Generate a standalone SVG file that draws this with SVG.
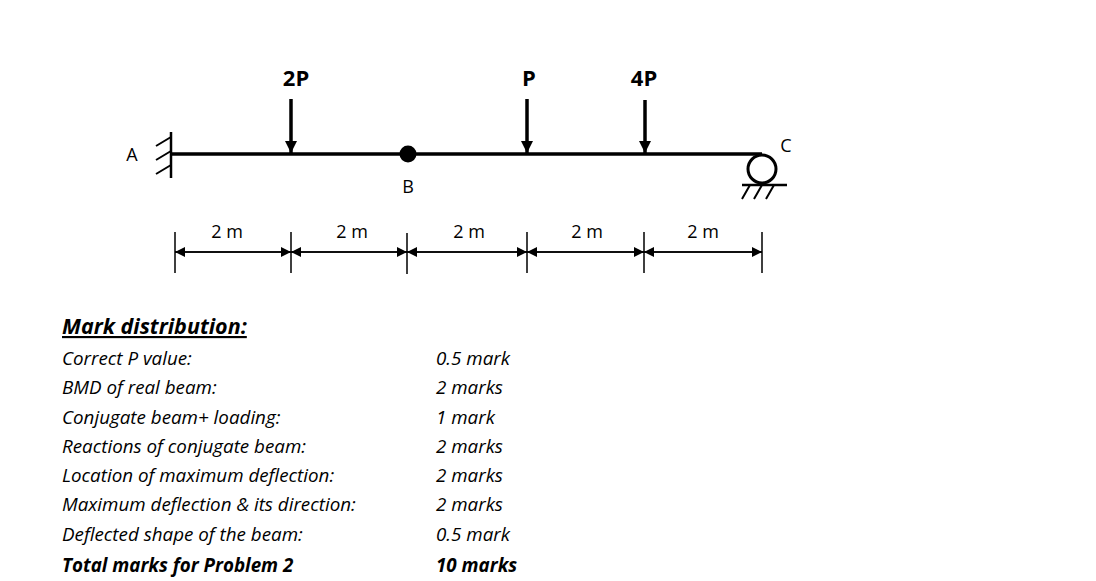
<svg xmlns="http://www.w3.org/2000/svg" width="1096" height="581" viewBox="0 0 1096 581">
<style>
text{font-family:"Open Sans","Liberation Sans",sans-serif;fill:#000}
.lbl{font-size:18px}
.ld{font-size:22px;font-weight:bold}
.it{font-size:18.8px;font-style:italic}
.ln{stroke:#000;fill:none}
</style>
<defs>
<marker id="ah" viewBox="0 0 10 10" refX="10" refY="5" markerWidth="10" markerHeight="10" markerUnits="userSpaceOnUse" orient="auto"><path d="M0,0L10,5L0,10z"/></marker>
<marker id="ld" viewBox="0 0 10 10" refX="10" refY="5" markerWidth="14" markerHeight="12" markerUnits="userSpaceOnUse" orient="auto"><path d="M0,0L10,5L0,10z"/></marker>
</defs>
<rect width="1096" height="581" fill="#fff"/>
<g id="beam">
<line class="ln" x1="171" y1="154" x2="762" y2="154" stroke-width="3.5"/>
</g>
<g id="A">
<line class="ln" x1="171" y1="132" x2="171" y2="178" stroke-width="2.5"/>
<path class="ln" stroke-width="2" d="M171,137L156,146M171,151L156,160M171,165L156,174"/>
<text class="lbl" x="132" y="161" text-anchor="middle">A</text>
</g>
<g id="B">
<circle cx="408" cy="154" r="8.5" fill="#000"/>
<text class="lbl" x="408" y="193" text-anchor="middle">B</text>
</g>
<g id="C">
<circle cx="762" cy="169" r="14" fill="#fff" stroke="#000" stroke-width="3"/>
<line class="ln" x1="742" y1="185" x2="787" y2="185" stroke-width="2.5"/>
<path class="ln" stroke-width="2" d="M750,185L742,199M762,185L754,199M774,185L766,199"/>
<text class="lbl" x="786" y="152" text-anchor="middle">C</text>
</g>
<g id="loads">
<line class="ln" x1="291" y1="99" x2="291" y2="153" stroke-width="3.5" marker-end="url(#ld)"/>
<text class="ld" x="296" y="86" text-anchor="middle">2P</text>
<line class="ln" x1="527" y1="99" x2="527" y2="153" stroke-width="3.5" marker-end="url(#ld)"/>
<text class="ld" x="529" y="86" text-anchor="middle">P</text>
<line class="ln" x1="645" y1="100" x2="645" y2="153" stroke-width="3.5" marker-end="url(#ld)"/>
<text class="ld" x="644" y="86" text-anchor="middle">4P</text>
</g>
<g id="connectors">
<path class="ln" stroke-width="1.5" d="M175,232V273M291,232V273M407,233V274M527,232V273M644,232V273M762,232V273"/>
<line class="ln" x1="291" y1="252" x2="175" y2="252" stroke-width="1.5" marker-end="url(#ah)"/>
<line class="ln" x1="175" y1="252" x2="291" y2="252" stroke-width="1.5" marker-end="url(#ah)"/>
<line class="ln" x1="407" y1="252" x2="291" y2="252" stroke-width="1.5" marker-end="url(#ah)"/>
<line class="ln" x1="291" y1="252" x2="407" y2="252" stroke-width="1.5" marker-end="url(#ah)"/>
<line class="ln" x1="527" y1="252" x2="407" y2="252" stroke-width="1.5" marker-end="url(#ah)"/>
<line class="ln" x1="407" y1="252" x2="527" y2="252" stroke-width="1.5" marker-end="url(#ah)"/>
<line class="ln" x1="644" y1="252" x2="527" y2="252" stroke-width="1.5" marker-end="url(#ah)"/>
<line class="ln" x1="527" y1="252" x2="644" y2="252" stroke-width="1.5" marker-end="url(#ah)"/>
<line class="ln" x1="762" y1="252" x2="644" y2="252" stroke-width="1.5" marker-end="url(#ah)"/>
<line class="ln" x1="644" y1="252" x2="762" y2="252" stroke-width="1.5" marker-end="url(#ah)"/>
</g>
<g id="dims">
<text class="lbl" x="227" y="238" text-anchor="middle">2 m</text>
<text class="lbl" x="352" y="238" text-anchor="middle">2 m</text>
<text class="lbl" x="469" y="238" text-anchor="middle">2 m</text>
<text class="lbl" x="587" y="238" text-anchor="middle">2 m</text>
<text class="lbl" x="703" y="238" text-anchor="middle">2 m</text>
</g>
<g id="marks">
<text x="62" y="334" font-size="21.5" font-weight="bold" font-style="italic" text-decoration="underline">Mark distribution:</text>
<text class="it" x="62" y="365">Correct P value:</text><text class="it" x="436" y="365">0.5 mark</text>
<text class="it" x="62" y="394">BMD of real beam:</text><text class="it" x="436" y="394">2 marks</text>
<text class="it" x="62" y="424">Conjugate beam+ loading:</text><text class="it" x="436" y="424">1 mark</text>
<text class="it" x="62" y="453">Reactions of conjugate beam:</text><text class="it" x="436" y="453">2 marks</text>
<text class="it" x="62" y="482">Location of maximum deflection:</text><text class="it" x="436" y="482">2 marks</text>
<text class="it" x="62" y="511">Maximum deflection &amp; its direction:</text><text class="it" x="436" y="511">2 marks</text>
<text class="it" x="62" y="541">Deflected shape of the beam:</text><text class="it" x="436" y="541">0.5 mark</text>
<text class="it" x="62" y="572" font-weight="bold" font-size="21">Total marks for Problem 2</text><text class="it" x="436" y="572" font-weight="bold" font-size="21">10 marks</text>
</g>
</svg>
